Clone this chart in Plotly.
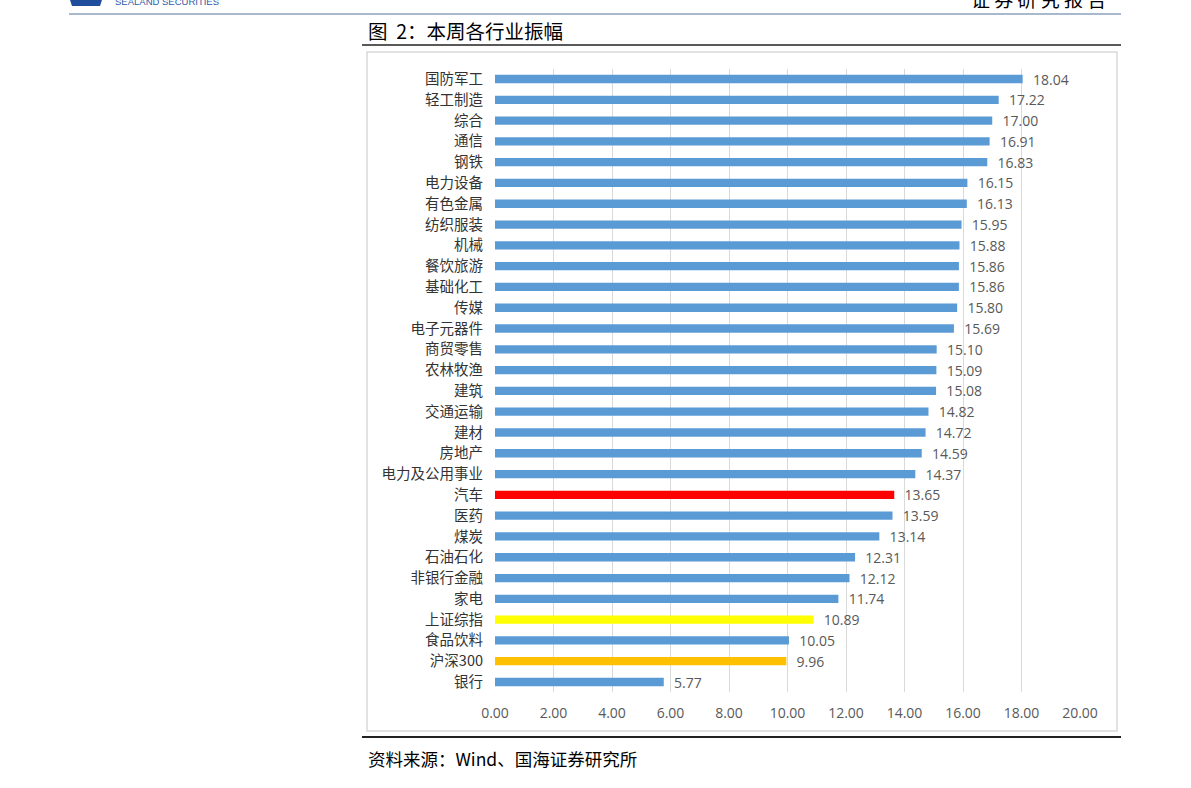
import plotly.graph_objects as go

categories = ["国防军工", "轻工制造", "综合", "通信", "钢铁", "电力设备", "有色金属", "纺织服装",
              "机械", "餐饮旅游", "基础化工", "传媒", "电子元器件", "商贸零售", "农林牧渔", "建筑",
              "交通运输", "建材", "房地产", "电力及公用事业", "汽车", "医药", "煤炭", "石油石化",
              "非银行金融", "家电", "上证综指", "食品饮料", "沪深300", "银行"]
values = [18.04, 17.22, 17.00, 16.91, 16.83, 16.15, 16.13, 15.95, 15.88, 15.86, 15.86, 15.80,
          15.69, 15.10, 15.09, 15.08, 14.82, 14.72, 14.59, 14.37, 13.65, 13.59, 13.14, 12.31,
          12.12, 11.74, 10.89, 10.05, 9.96, 5.77]
highlight = {"汽车": "#FF0000", "上证综指": "#FFFF00", "沪深300": "#FFC000"}
base_color = "#5B9BD5"
tick_vals = [0, 2, 4, 6, 8, 10, 12, 14, 16, 18, 20]
tick_text = ["0.00", "2.00", "4.00", "6.00", "8.00", "10.00", "12.00", "14.00", "16.00", "18.00", "20.00"]

W, H = 1191, 788
def px(x):
    return x / W
def py(y):
    return 1 - y / H

colors = [highlight.get(c, base_color) for c in categories]

fig = go.Figure(go.Bar(
    x=values, y=categories, orientation="h",
    marker=dict(color=colors, line=dict(width=0)),
    texttemplate="\u00a0\u00a0%{x:.2f}", textposition="outside",
    constraintext="none",
    textfont=dict(family="Open Sans, Noto Sans", size=14, color="#595959"),
    cliponaxis=False,
))

fig.update_layout(
    width=W, height=H, autosize=False,
    margin=dict(l=0, r=0, t=0, b=0, pad=0, autoexpand=False),
    paper_bgcolor="white", plot_bgcolor="white",
    bargap=0.6, showlegend=False,
    xaxis=dict(domain=[px(495), px(1080)], range=[0, 20], tickvals=tick_vals, ticktext=tick_text,
               showgrid=True, gridcolor="#D9D9D9", gridwidth=1, zeroline=False,
               showline=False, ticks="", ticklabelstandoff=11, automargin=False,
               tickfont=dict(family="Open Sans, Noto Sans", size=14, color="#595959")),
    yaxis=dict(domain=[py(692.4), py(68.6)], categoryorder="array", categoryarray=categories,
               autorange="reversed", showgrid=False, zeroline=False, showline=False, ticks="",
               ticklabelstandoff=11, automargin=False,
               tickfont=dict(family="Noto Sans CJK SC", size=14.5, color="#333333")),
)

shapes = [
    dict(type="line", xref="paper", yref="paper", x0=px(69), x1=px(1121), y0=py(14), y1=py(14),
         line=dict(color="#A9B9CD", width=2)),
    dict(type="line", xref="paper", yref="paper", x0=px(362), x1=px(1121), y0=py(45), y1=py(45),
         line=dict(color="#595959", width=2)),
    dict(type="rect", xref="paper", yref="paper", x0=px(367), x1=px(1117), y0=py(731), y1=py(52),
         line=dict(color="#D9D9D9", width=1.5), layer="below"),
    dict(type="line", xref="paper", yref="paper", x0=px(362), x1=px(1121), y0=py(737), y1=py(737),
         line=dict(color="#222222", width=2)),
    dict(type="path", xref="paper", yref="paper",
         path=f"M {px(70)},{py(0)} L {px(102)},{py(0)} L {px(100)},{py(6)} L {px(72)},{py(6)} Z",
         fillcolor="#1F4E9C", line=dict(width=0)),
]
fig.update_layout(shapes=shapes)

annotations = [
    dict(text="图\u00a0\u00a02：本周各行业振幅", x=px(366), y=py(30), xref="paper", yref="paper",
         xanchor="left", yanchor="middle", showarrow=False,
         font=dict(family="Noto Sans CJK SC", size=19.5, color="#000000")),
    dict(text="资料来源：Wind、国海证券研究所", x=px(366), y=py(758), xref="paper", yref="paper",
         xanchor="left", yanchor="middle", showarrow=False,
         font=dict(family="Noto Sans CJK SC", size=17.5, color="#000000")),
    dict(text="证 券 研 究 报 告", x=px(1108), y=py(-1), xref="paper", yref="paper",
         xanchor="right", yanchor="middle", showarrow=False,
         font=dict(family="Noto Sans CJK SC", size=19, color="#000000")),
    dict(text="SEALAND SECURITIES", x=px(113), y=py(1), xref="paper", yref="paper",
         xanchor="left", yanchor="middle", showarrow=False,
         font=dict(family="Liberation Sans", size=9.5, color="#2E5CA8")),
]
fig.update_layout(annotations=annotations)

fig.write_html("out.html", config={"responsive": False},
               post_script="document.body.style.margin='0';document.body.style.overflow='hidden';")
